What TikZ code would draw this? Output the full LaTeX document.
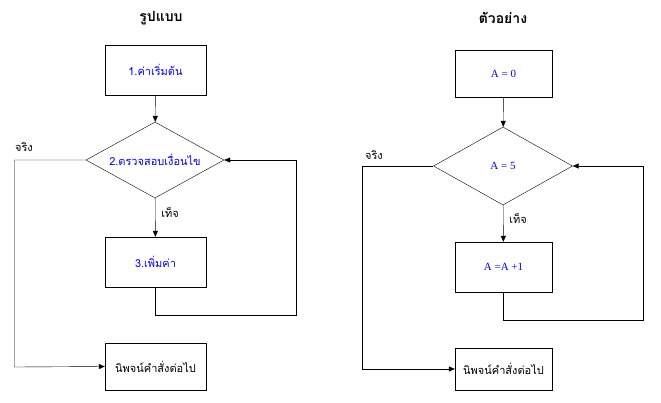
\documentclass[tikz,border=0pt]{standalone}
\usepackage{fontspec}
\setmainfont[Script=Thai]{Loma}
\newfontfamily\latinf{Liberation Serif}
\usetikzlibrary{shapes.geometric,arrows.meta}
\begin{document}
\begin{tikzpicture}[x=1pt,y=-1pt,font=\fontsize{11}{13}\selectfont,
 bx/.style={draw,minimum width=101pt,minimum height=50pt,inner sep=1pt},
 dm/.style={draw,diamond,aspect=1.8,minimum width=138pt,minimum height=76pt,inner sep=0pt},
 ar/.style={-{Triangle[length=6pt,width=5pt]}},
 ttl/.style={font=\fontsize{14}{16}\selectfont\bfseries},
 lb/.style={inner sep=1pt}]
\useasboundingbox (0,0) rectangle (661,402);
% left
\node[ttl] (t1) at (161,18) {รูปแบบ};
\node[bx,text=blue] (a1) at (155.5,70) {1.ค่าเริ่มต้น};
\node[dm,text=blue] (d1) at (155,160) {2.ตรวจสอบเงื่อนไข};
\node[bx,text=blue] (a3) at (155.5,262) {3.เพิ่มค่า};
\node[bx,minimum height=47pt] (a4) at (155.5,366.5) {นิพจน์คำสั่งต่อไป};
\node[lb] (l1) at (24,147) {จริง};
\node[lb] (l2) at (170,212) {เท็จ};
\coordinate (c1) at (14.5,160);
\coordinate (c2) at (14.5,367);
\coordinate (c3) at (155.5,315);
\coordinate (c4) at (296,315);
\coordinate (c5) at (296,160);
\draw[ar] (a1) -- (d1);
\draw[ar] (d1) -- (a3);
\draw[ar] (d1.west) -- (c1) -- (c2) -- (a4.west);
\draw[ar] (a3.south) -- (c3) -- (c4) -- (c5) -- (d1.east);
% right
\node[ttl] (t2) at (503,18) {ตัวอย่าง};
\node[bx,minimum width=97pt,minimum height=47pt,text=blue,font=\latinf\fontsize{11}{13}\selectfont] (b1) at (503.5,73.5) {A = 0};
\node[dm,minimum width=139pt,minimum height=78pt,text=blue,font=\latinf\fontsize{11}{13}\selectfont] (d2) at (503,166) {A = 5};
\node[bx,minimum width=97pt,text=blue,font=\latinf\fontsize{11}{13}\selectfont] (b3) at (503.5,267) {A =A +1};
\node[bx,minimum width=97pt,minimum height=42pt] (b4) at (503.5,369) {นิพจน์คำสั่งต่อไป};
\node[lb] (l3) at (374,155) {จริง};
\node[lb] (l4) at (518,218) {เท็จ};
\coordinate (e1) at (362,166);
\coordinate (e2) at (362,369);
\coordinate (e3) at (503.5,320);
\coordinate (e4) at (643,320);
\coordinate (e5) at (643,166);
\draw[ar] (b1) -- (d2);
\draw[ar] (d2) -- (b3);
\draw[ar] (d2.west) -- (e1) -- (e2) -- (b4.west);
\draw[ar] (b3.south) -- (e3) -- (e4) -- (e5) -- (d2.east);
\end{tikzpicture}
\end{document}
